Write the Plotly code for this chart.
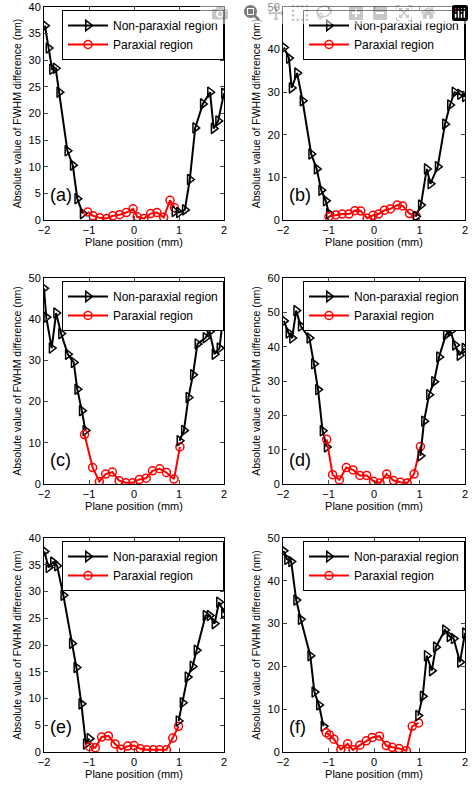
import plotly.graph_objects as go

# panel (a)
a_np_left_x = [-1.98, -1.9, -1.82, -1.74, -1.66, -1.48, -1.36, -1.26, -1.14]
a_np_left_y = [36.5, 32.3, 28.3, 28.5, 24.0, 13.0, 10.3, 4.0, 1.2]
a_p_x = [-1.03, -0.91, -0.76, -0.61, -0.47, -0.32, -0.17, -0.02, 0.07, 0.22, 0.37, 0.51, 0.66, 0.8, 0.9]
a_p_y = [1.5, 0.8, 0.4, 0.3, 0.8, 1.0, 1.4, 2.1, 0.6, 0.3, 1.2, 1.4, 0.5, 3.7, 2.3]
a_np_right_x = [0.9, 1.0, 1.13, 1.24, 1.36, 1.53, 1.69, 1.77, 1.87, 2.0]
a_np_right_y = [1.6, 1.4, 1.9, 7.6, 17.3, 21.8, 24.0, 17.2, 18.6, 23.8]

# panel (b)
b_np_left_x = [-1.98, -1.87, -1.81, -1.69, -1.57, -1.38, -1.26, -1.16, -1.06, -0.99]
b_np_left_y = [40.5, 38.0, 31.0, 34.5, 28.0, 15.5, 12.0, 7.0, 4.5, 1.5]
b_p_x = [-0.99, -0.84, -0.7, -0.55, -0.42, -0.29, -0.15, -0.02, 0.1, 0.23, 0.36, 0.51, 0.63, 0.78, 0.92]
b_p_y = [0.8, 1.2, 1.4, 1.4, 2.2, 2.1, 0.4, 1.1, 1.4, 2.3, 2.6, 3.5, 3.3, 1.5, 1.0]
b_np_right_x = [0.92, 1.03, 1.16, 1.24, 1.4, 1.56, 1.67, 1.77, 1.89, 2.0]
b_np_right_y = [0.8, 3.5, 12.0, 8.5, 12.5, 22.5, 27.0, 30.0, 29.5, 29.0]

# panel (c)
c_np_left_x = [-2.0, -1.95, -1.83, -1.73, -1.62, -1.47, -1.34, -1.26, -1.16, -1.08]
c_np_left_y = [47.5, 40.5, 33.0, 41.5, 36.5, 31.5, 29.5, 23.0, 17.8, 13.0]
c_p_x = [-1.1, -0.92, -0.77, -0.63, -0.48, -0.33, -0.18, -0.03, 0.12, 0.27, 0.41, 0.57, 0.72, 0.89, 1.02]
c_p_y = [12.0, 4.0, 0.6, 2.4, 2.9, 0.8, 0.3, 0.3, 1.1, 1.4, 3.2, 3.7, 2.8, 1.2, 9.0]
c_np_right_x = [1.01, 1.11, 1.21, 1.31, 1.41, 1.59, 1.68, 1.79, 1.9, 2.0]
c_np_right_y = [10.5, 13.0, 21.0, 26.5, 34.0, 35.5, 37.0, 31.5, 33.0, 42.5]

# panel (d)
d_np_left_x = [-1.98, -1.88, -1.8, -1.71, -1.61, -1.42, -1.32, -1.23, -1.13, -1.04]
d_np_left_y = [47.5, 44.0, 42.5, 50.5, 46.0, 42.5, 35.0, 27.5, 15.5, 10.8]
d_p_x = [-1.04, -0.91, -0.76, -0.61, -0.46, -0.31, -0.16, -0.01, 0.13, 0.28, 0.43, 0.58, 0.73, 0.88, 1.02]
d_p_y = [13.0, 2.7, 1.2, 4.8, 4.1, 2.5, 2.5, 0.8, 0.3, 2.9, 1.0, 0.5, 0.3, 2.9, 10.9]
d_np_right_x = [1.02, 1.1, 1.21, 1.32, 1.43, 1.58, 1.68, 1.78, 1.88, 1.99]
d_np_right_y = [8.2, 18.3, 26.0, 29.8, 37.0, 43.5, 44.5, 40.5, 37.5, 39.5]

# panel (e)
e_np_left_x = [-1.99, -1.9, -1.8, -1.71, -1.57, -1.38, -1.28, -1.17, -1.07, -0.99]
e_np_left_y = [37.5, 34.5, 35.5, 34.8, 29.3, 20.3, 15.8, 9.0, 1.5, 2.5]
e_p_x = [-0.99, -0.86, -0.72, -0.57, -0.42, -0.29, -0.14, 0.0, 0.14, 0.28, 0.43, 0.57, 0.72, 0.86, 0.99]
e_p_y = [1.0, 0.8, 2.8, 3.0, 1.5, 0.5, 1.1, 1.2, 0.6, 0.4, 0.4, 0.4, 0.4, 2.6, 4.8]
e_np_right_x = [0.99, 1.08, 1.19, 1.3, 1.39, 1.59, 1.68, 1.79, 1.89, 2.0]
e_np_right_y = [5.8, 9.2, 14.0, 16.0, 19.0, 25.5, 25.5, 24.0, 28.0, 26.0]

# panel (f)
f_np_left_x = [-1.99, -1.91, -1.82, -1.71, -1.61, -1.4, -1.31, -1.21, -1.11]
f_np_left_y = [47.0, 45.0, 44.5, 35.5, 31.0, 22.5, 14.0, 11.0, 6.0]
f_p_x = [-1.05, -0.98, -0.88, -0.73, -0.58, -0.46, -0.31, -0.17, -0.04, 0.12, 0.27, 0.4, 0.55, 0.71, 0.84, 0.98]
f_p_y = [4.5, 4.0, 3.0, 0.6, 1.9, 0.5, 1.6, 2.6, 3.4, 3.7, 1.5, 1.1, 0.8, 0.3, 6.0, 6.8]
f_np_right_x = [0.97, 1.07, 1.16, 1.27, 1.36, 1.56, 1.66, 1.75, 1.89, 2.0]
f_np_right_y = [8.5, 13.0, 22.5, 19.0, 24.5, 28.5, 27.0, 26.5, 21.0, 27.8]

panels = [
    ("(a)", a_np_left_x, a_np_left_y, a_p_x, a_p_y, a_np_right_x, a_np_right_y, 40, 5),
    ("(b)", b_np_left_x, b_np_left_y, b_p_x, b_p_y, b_np_right_x, b_np_right_y, 50, 10),
    ("(c)", c_np_left_x, c_np_left_y, c_p_x, c_p_y, c_np_right_x, c_np_right_y, 50, 10),
    ("(d)", d_np_left_x, d_np_left_y, d_p_x, d_p_y, d_np_right_x, d_np_right_y, 60, 10),
    ("(e)", e_np_left_x, e_np_left_y, e_p_x, e_p_y, e_np_right_x, e_np_right_y, 40, 5),
    ("(f)", f_np_left_x, f_np_left_y, f_p_x, f_p_y, f_np_right_x, f_np_right_y, 50, 10),
]

W, H = 474, 789
col_dom = [[44 / W, 224 / W], [283 / W, 465 / W]]
row_dom = [[1 - 220 / H, 1 - 7 / H], [1 - 484 / H, 1 - 278 / H], [1 - 752 / H, 1 - 538 / H]]

font = "Liberation Sans, Arial, sans-serif"
fig = go.Figure()
layout = dict(width=W, height=H, margin=dict(l=0, r=0, t=0, b=0, autoexpand=False),
              paper_bgcolor="white", plot_bgcolor="white", showlegend=True,
              font=dict(family=font, size=11, color="black"))
annotations = []

for i, (lab, lx, ly, px, py, rx, ry, ymax, dy) in enumerate(panels):
    n = "" if i == 0 else str(i + 1)
    xa, ya = "x" + n, "y" + n
    leg = "legend" + n
    black = dict(color="black", width=2)
    mk_b = dict(symbol="triangle-right-open", size=9, color="black", line=dict(width=1.5))
    fig.add_trace(go.Scatter(x=lx, y=ly, mode="lines+markers", line=black, marker=mk_b,
                             name="Non-paraxial region", xaxis=xa, yaxis=ya, legend=leg))
    fig.add_trace(go.Scatter(x=px, y=py, mode="lines+markers",
                             line=dict(color="red", width=2),
                             marker=dict(symbol="circle-open", size=8, color="red", line=dict(width=1.5)),
                             name="Paraxial region", xaxis=xa, yaxis=ya, legend=leg))
    fig.add_trace(go.Scatter(x=rx, y=ry, mode="lines+markers", line=black, marker=mk_b,
                             name="Non-paraxial region", xaxis=xa, yaxis=ya, legend=leg,
                             showlegend=False))
    r, c = i // 2, i % 2
    axcommon = dict(showgrid=False, zeroline=False, showline=True, linecolor="black",
                    linewidth=1, mirror="ticks", ticks="inside", ticklen=4,
                    tickfont=dict(size=11, family=font), automargin=False)
    layout["xaxis" + n] = dict(axcommon, domain=col_dom[c], anchor=ya, range=[-2, 2],
                               tickvals=[-2, -1, 0, 1, 2],
                               title=dict(text="Plane position (mm)", font=dict(size=11), standoff=2))
    layout["yaxis" + n] = dict(axcommon, domain=row_dom[r], anchor=xa, range=[0, ymax],
                               dtick=dy,
                               title=dict(text="Absolute value of FWHM difference (nm)",
                                          font=dict(size=10.5), standoff=4))
    layout[leg] = dict(x=col_dom[c][1], y=row_dom[r][1] - 3 / H, xanchor="right", yanchor="top",
                       bgcolor="white", bordercolor="black", borderwidth=1,
                       font=dict(size=12, family=font), tracegroupgap=0,
                       itemwidth=40)
    annotations.append(dict(text=lab, xref=xa + " domain", yref=ya + " domain",
                            x=0.02, y=0.06, xanchor="left", yanchor="bottom",
                            showarrow=False, font=dict(size=18, family=font)))

layout["annotations"] = annotations
fig.update_layout(**layout)
fig.write_html("out.html", post_script="document.body.style.margin='0';")
